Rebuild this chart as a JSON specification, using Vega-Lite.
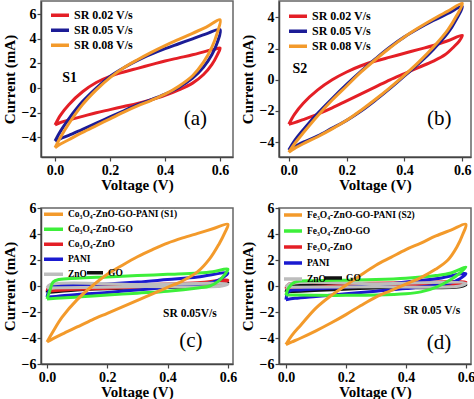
{
"$schema": "https://vega.github.io/schema/vega-lite/v6.json",
"padding": {"left": 1, "top": 0, "right": 0, "bottom": 0},
"background": "white",
"config": {
  "font": "Liberation Serif",
  "view": {"stroke": "#666", "strokeWidth": 1.5},
  "axis": {"labelFont": "Liberation Serif", "labelFontWeight": "bold", "labelFontSize": 14, "labelColor": "#000", "titleFont": "Liberation Serif", "titleFontWeight": "bold", "titleFontSize": 15, "titleColor": "#000", "grid": false, "tickSize": 4, "tickColor": "#444", "tickWidth": 1.2, "domainColor": "#444", "domainWidth": 1.5},
  "axisX": {"labelPadding": 2, "titlePadding": 0, "labelFlush": false},
  "axisY": {"labelPadding": 1, "titlePadding": 4},
  "legend": {"orient": "none", "symbolType": "stroke", "labelFont": "Liberation Serif", "labelFontWeight": "bold", "labelColor": "#000", "padding": 0, "rowPadding": 2, "labelOffset": 3, "symbolStrokeWidth": 3.5}
},
"datasets": {
 "a": [
  {"s":"0.02","i":0,"v":0,"c":-3.0},{"s":"0.02","i":1,"v":0.02,"c":-2.2},{"s":"0.02","i":2,"v":0.05,"c":-1.35},{"s":"0.02","i":3,"v":0.1,"c":-0.3},{"s":"0.02","i":4,"v":0.15,"c":0.45},{"s":"0.02","i":5,"v":0.2,"c":0.95},{"s":"0.02","i":6,"v":0.25,"c":1.3},{"s":"0.02","i":7,"v":0.3,"c":1.6},{"s":"0.02","i":8,"v":0.35,"c":1.9},{"s":"0.02","i":9,"v":0.4,"c":2.2},{"s":"0.02","i":10,"v":0.45,"c":2.45},{"s":"0.02","i":11,"v":0.5,"c":2.7},{"s":"0.02","i":12,"v":0.55,"c":3.0},{"s":"0.02","i":13,"v":0.58,"c":3.15},{"s":"0.02","i":14,"v":0.6,"c":3.25},
  {"s":"0.02","i":15,"v":0.59,"c":2.7},{"s":"0.02","i":16,"v":0.57,"c":1.9},{"s":"0.02","i":17,"v":0.54,"c":1.1},{"s":"0.02","i":18,"v":0.5,"c":0.4},{"s":"0.02","i":19,"v":0.45,"c":-0.15},{"s":"0.02","i":20,"v":0.4,"c":-0.6},{"s":"0.02","i":21,"v":0.35,"c":-0.95},{"s":"0.02","i":22,"v":0.3,"c":-1.25},{"s":"0.02","i":23,"v":0.25,"c":-1.5},{"s":"0.02","i":24,"v":0.2,"c":-1.75},{"s":"0.02","i":25,"v":0.15,"c":-2.0},{"s":"0.02","i":26,"v":0.1,"c":-2.3},{"s":"0.02","i":27,"v":0.05,"c":-2.6},{"s":"0.02","i":28,"v":0.02,"c":-2.8},{"s":"0.02","i":29,"v":0,"c":-3.0},
  {"s":"0.05","i":0,"v":0,"c":-4.3},{"s":"0.05","i":1,"v":0.02,"c":-3.5},{"s":"0.05","i":2,"v":0.05,"c":-2.5},{"s":"0.05","i":3,"v":0.1,"c":-1.1},{"s":"0.05","i":4,"v":0.15,"c":0.0},{"s":"0.05","i":5,"v":0.2,"c":0.95},{"s":"0.05","i":6,"v":0.25,"c":1.65},{"s":"0.05","i":7,"v":0.3,"c":2.25},{"s":"0.05","i":8,"v":0.35,"c":2.75},{"s":"0.05","i":9,"v":0.4,"c":3.2},{"s":"0.05","i":10,"v":0.45,"c":3.6},{"s":"0.05","i":11,"v":0.5,"c":4.0},{"s":"0.05","i":12,"v":0.55,"c":4.4},{"s":"0.05","i":13,"v":0.6,"c":4.75},
  {"s":"0.05","i":14,"v":0.59,"c":3.7},{"s":"0.05","i":15,"v":0.57,"c":2.7},{"s":"0.05","i":16,"v":0.54,"c":1.7},{"s":"0.05","i":17,"v":0.5,"c":0.8},{"s":"0.05","i":18,"v":0.45,"c":0.05},{"s":"0.05","i":19,"v":0.4,"c":-0.5},{"s":"0.05","i":20,"v":0.35,"c":-0.95},{"s":"0.05","i":21,"v":0.3,"c":-1.35},{"s":"0.05","i":22,"v":0.25,"c":-1.85},{"s":"0.05","i":23,"v":0.2,"c":-2.35},{"s":"0.05","i":24,"v":0.15,"c":-2.85},{"s":"0.05","i":25,"v":0.1,"c":-3.35},{"s":"0.05","i":26,"v":0.05,"c":-3.85},{"s":"0.05","i":27,"v":0.02,"c":-4.1},{"s":"0.05","i":28,"v":0,"c":-4.3},
  {"s":"0.08","i":0,"v":0,"c":-4.85},{"s":"0.08","i":1,"v":0.02,"c":-4.0},{"s":"0.08","i":2,"v":0.05,"c":-2.9},{"s":"0.08","i":3,"v":0.1,"c":-1.35},{"s":"0.08","i":4,"v":0.15,"c":-0.15},{"s":"0.08","i":5,"v":0.2,"c":0.85},{"s":"0.08","i":6,"v":0.25,"c":1.65},{"s":"0.08","i":7,"v":0.3,"c":2.3},{"s":"0.08","i":8,"v":0.35,"c":2.9},{"s":"0.08","i":9,"v":0.4,"c":3.45},{"s":"0.08","i":10,"v":0.45,"c":3.95},{"s":"0.08","i":11,"v":0.5,"c":4.45},{"s":"0.08","i":12,"v":0.55,"c":4.95},{"s":"0.08","i":13,"v":0.6,"c":5.55},
  {"s":"0.08","i":14,"v":0.59,"c":4.5},{"s":"0.08","i":15,"v":0.57,"c":3.3},{"s":"0.08","i":16,"v":0.54,"c":2.1},{"s":"0.08","i":17,"v":0.5,"c":1.0},{"s":"0.08","i":18,"v":0.45,"c":0.15},{"s":"0.08","i":19,"v":0.4,"c":-0.5},{"s":"0.08","i":20,"v":0.35,"c":-1.0},{"s":"0.08","i":21,"v":0.3,"c":-1.45},{"s":"0.08","i":22,"v":0.25,"c":-1.95},{"s":"0.08","i":23,"v":0.2,"c":-2.5},{"s":"0.08","i":24,"v":0.15,"c":-3.05},{"s":"0.08","i":25,"v":0.1,"c":-3.6},{"s":"0.08","i":26,"v":0.05,"c":-4.2},{"s":"0.08","i":27,"v":0.02,"c":-4.55},{"s":"0.08","i":28,"v":0,"c":-4.85}
 ],
 "b": [
  {"s":"0.02","i":0,"v":0,"c":-2.85},{"s":"0.02","i":1,"v":0.02,"c":-2.2},{"s":"0.02","i":2,"v":0.05,"c":-1.5},{"s":"0.02","i":3,"v":0.1,"c":-0.65},{"s":"0.02","i":4,"v":0.15,"c":0.0},{"s":"0.02","i":5,"v":0.2,"c":0.5},{"s":"0.02","i":6,"v":0.25,"c":0.9},{"s":"0.02","i":7,"v":0.3,"c":1.2},{"s":"0.02","i":8,"v":0.35,"c":1.45},{"s":"0.02","i":9,"v":0.4,"c":1.7},{"s":"0.02","i":10,"v":0.45,"c":1.95},{"s":"0.02","i":11,"v":0.5,"c":2.2},{"s":"0.02","i":12,"v":0.55,"c":2.5},{"s":"0.02","i":13,"v":0.6,"c":2.85},
  {"s":"0.02","i":14,"v":0.59,"c":2.5},{"s":"0.02","i":15,"v":0.57,"c":2.1},{"s":"0.02","i":16,"v":0.54,"c":1.6},{"s":"0.02","i":17,"v":0.5,"c":1.2},{"s":"0.02","i":18,"v":0.45,"c":0.8},{"s":"0.02","i":19,"v":0.4,"c":0.4},{"s":"0.02","i":20,"v":0.35,"c":0.0},{"s":"0.02","i":21,"v":0.3,"c":-0.45},{"s":"0.02","i":22,"v":0.25,"c":-0.9},{"s":"0.02","i":23,"v":0.2,"c":-1.35},{"s":"0.02","i":24,"v":0.15,"c":-1.8},{"s":"0.02","i":25,"v":0.1,"c":-2.2},{"s":"0.02","i":26,"v":0.05,"c":-2.55},{"s":"0.02","i":27,"v":0.02,"c":-2.75},{"s":"0.02","i":28,"v":0,"c":-2.85},
  {"s":"0.05","i":0,"v":0,"c":-4.5},{"s":"0.05","i":1,"v":0.02,"c":-3.9},{"s":"0.05","i":2,"v":0.05,"c":-3.2},{"s":"0.05","i":3,"v":0.1,"c":-2.15},{"s":"0.05","i":4,"v":0.15,"c":-1.2},{"s":"0.05","i":5,"v":0.2,"c":-0.3},{"s":"0.05","i":6,"v":0.25,"c":0.55},{"s":"0.05","i":7,"v":0.3,"c":1.35},{"s":"0.05","i":8,"v":0.35,"c":2.1},{"s":"0.05","i":9,"v":0.4,"c":2.75},{"s":"0.05","i":10,"v":0.45,"c":3.3},{"s":"0.05","i":11,"v":0.5,"c":3.8},{"s":"0.05","i":12,"v":0.55,"c":4.25},{"s":"0.05","i":13,"v":0.6,"c":4.7},
  {"s":"0.05","i":14,"v":0.58,"c":3.9},{"s":"0.05","i":15,"v":0.55,"c":3.0},{"s":"0.05","i":16,"v":0.5,"c":1.95},{"s":"0.05","i":17,"v":0.45,"c":1.05},{"s":"0.05","i":18,"v":0.4,"c":0.25},{"s":"0.05","i":19,"v":0.35,"c":-0.55},{"s":"0.05","i":20,"v":0.3,"c":-1.3},{"s":"0.05","i":21,"v":0.25,"c":-2.0},{"s":"0.05","i":22,"v":0.2,"c":-2.6},{"s":"0.05","i":23,"v":0.15,"c":-3.1},{"s":"0.05","i":24,"v":0.1,"c":-3.6},{"s":"0.05","i":25,"v":0.05,"c":-4.0},{"s":"0.05","i":26,"v":0.02,"c":-4.3},{"s":"0.05","i":27,"v":0,"c":-4.5},
  {"s":"0.08","i":0,"v":0,"c":-4.65},{"s":"0.08","i":1,"v":0.02,"c":-4.1},{"s":"0.08","i":2,"v":0.05,"c":-3.4},{"s":"0.08","i":3,"v":0.1,"c":-2.3},{"s":"0.08","i":4,"v":0.15,"c":-1.3},{"s":"0.08","i":5,"v":0.2,"c":-0.4},{"s":"0.08","i":6,"v":0.25,"c":0.5},{"s":"0.08","i":7,"v":0.3,"c":1.3},{"s":"0.08","i":8,"v":0.35,"c":2.05},{"s":"0.08","i":9,"v":0.4,"c":2.75},{"s":"0.08","i":10,"v":0.45,"c":3.35},{"s":"0.08","i":11,"v":0.5,"c":3.9},{"s":"0.08","i":12,"v":0.55,"c":4.4},{"s":"0.08","i":13,"v":0.6,"c":4.9},
  {"s":"0.08","i":14,"v":0.58,"c":4.1},{"s":"0.08","i":15,"v":0.55,"c":3.2},{"s":"0.08","i":16,"v":0.5,"c":2.1},{"s":"0.08","i":17,"v":0.45,"c":1.15},{"s":"0.08","i":18,"v":0.4,"c":0.3},{"s":"0.08","i":19,"v":0.35,"c":-0.5},{"s":"0.08","i":20,"v":0.3,"c":-1.25},{"s":"0.08","i":21,"v":0.25,"c":-1.95},{"s":"0.08","i":22,"v":0.2,"c":-2.6},{"s":"0.08","i":23,"v":0.15,"c":-3.15},{"s":"0.08","i":24,"v":0.1,"c":-3.65},{"s":"0.08","i":25,"v":0.05,"c":-4.1},{"s":"0.08","i":26,"v":0.02,"c":-4.4},{"s":"0.08","i":27,"v":0,"c":-4.65}
 ],
 "cgo": [
  {"s":"GO","i":0,"v":0,"c":-0.5},{"s":"GO","i":1,"v":0.01,"c":-0.1},{"s":"GO","i":2,"v":0.1,"c":-0.05},{"s":"GO","i":3,"v":0.3,"c":0.0},{"s":"GO","i":4,"v":0.5,"c":0.1},{"s":"GO","i":5,"v":0.6,"c":0.25},{"s":"GO","i":6,"v":0.58,"c":0.05},{"s":"GO","i":7,"v":0.5,"c":-0.05},{"s":"GO","i":8,"v":0.3,"c":-0.15},{"s":"GO","i":9,"v":0.1,"c":-0.3},{"s":"GO","i":10,"v":0,"c":-0.5}
 ],
 "c": [
  {"s":"Z","i":0,"v":0,"c":-0.4},{"s":"Z","i":1,"v":0.01,"c":0.0},{"s":"Z","i":2,"v":0.1,"c":0.05},{"s":"Z","i":3,"v":0.3,"c":0.1},{"s":"Z","i":4,"v":0.5,"c":0.25},{"s":"Z","i":5,"v":0.6,"c":0.45},{"s":"Z","i":6,"v":0.58,"c":0.2},{"s":"Z","i":7,"v":0.5,"c":0.05},{"s":"Z","i":8,"v":0.3,"c":-0.1},{"s":"Z","i":9,"v":0.1,"c":-0.25},{"s":"Z","i":10,"v":0,"c":-0.4},
  {"s":"P","i":0,"v":0,"c":-0.85},{"s":"P","i":1,"v":0.01,"c":-0.2},{"s":"P","i":2,"v":0.03,"c":0.0},{"s":"P","i":3,"v":0.1,"c":0.05},{"s":"P","i":4,"v":0.2,"c":0.15},{"s":"P","i":5,"v":0.3,"c":0.3},{"s":"P","i":6,"v":0.4,"c":0.5},{"s":"P","i":7,"v":0.5,"c":0.7},{"s":"P","i":8,"v":0.6,"c":1.0},{"s":"P","i":9,"v":0.58,"c":0.6},{"s":"P","i":10,"v":0.55,"c":0.3},{"s":"P","i":11,"v":0.5,"c":0.1},{"s":"P","i":12,"v":0.4,"c":-0.1},{"s":"P","i":13,"v":0.3,"c":-0.3},{"s":"P","i":14,"v":0.2,"c":-0.5},{"s":"P","i":15,"v":0.1,"c":-0.65},{"s":"P","i":16,"v":0.03,"c":-0.8},{"s":"P","i":17,"v":0,"c":-0.85},
  {"s":"Zn","i":0,"v":0,"c":-0.15},{"s":"Zn","i":1,"v":0.01,"c":0.1},{"s":"Zn","i":2,"v":0.3,"c":0.12},{"s":"Zn","i":3,"v":0.6,"c":0.15},{"s":"Zn","i":4,"v":0.58,"c":0.0},{"s":"Zn","i":5,"v":0.3,"c":-0.05},{"s":"Zn","i":6,"v":0,"c":-0.15},
  {"s":"G","i":0,"v":0,"c":-1.0},{"s":"G","i":1,"v":0.01,"c":-0.3},{"s":"G","i":2,"v":0.02,"c":0.3},{"s":"G","i":3,"v":0.04,"c":0.5},{"s":"G","i":4,"v":0.1,"c":0.6},{"s":"G","i":5,"v":0.2,"c":0.7},{"s":"G","i":6,"v":0.3,"c":0.8},{"s":"G","i":7,"v":0.4,"c":0.9},{"s":"G","i":8,"v":0.5,"c":1.0},{"s":"G","i":9,"v":0.55,"c":1.1},{"s":"G","i":10,"v":0.6,"c":1.3},{"s":"G","i":11,"v":0.59,"c":0.9},{"s":"G","i":12,"v":0.57,"c":0.4},{"s":"G","i":13,"v":0.54,"c":0.0},{"s":"G","i":14,"v":0.5,"c":-0.15},{"s":"G","i":15,"v":0.4,"c":-0.4},{"s":"G","i":16,"v":0.3,"c":-0.55},{"s":"G","i":17,"v":0.2,"c":-0.7},{"s":"G","i":18,"v":0.1,"c":-0.85},{"s":"G","i":19,"v":0.03,"c":-0.95},{"s":"G","i":20,"v":0,"c":-1.0},
  {"s":"PS","i":0,"v":0,"c":-4.3},{"s":"PS","i":1,"v":0.02,"c":-3.5},{"s":"PS","i":2,"v":0.05,"c":-2.4},{"s":"PS","i":3,"v":0.1,"c":-1.05},{"s":"PS","i":4,"v":0.15,"c":0.0},{"s":"PS","i":5,"v":0.2,"c":0.9},{"s":"PS","i":6,"v":0.25,"c":1.6},{"s":"PS","i":7,"v":0.3,"c":2.25},{"s":"PS","i":8,"v":0.35,"c":2.8},{"s":"PS","i":9,"v":0.4,"c":3.3},{"s":"PS","i":10,"v":0.45,"c":3.7},{"s":"PS","i":11,"v":0.5,"c":4.05},{"s":"PS","i":12,"v":0.55,"c":4.4},{"s":"PS","i":13,"v":0.6,"c":4.75},
  {"s":"PS","i":14,"v":0.59,"c":4.1},{"s":"PS","i":15,"v":0.57,"c":3.2},{"s":"PS","i":16,"v":0.54,"c":2.1},{"s":"PS","i":17,"v":0.5,"c":1.1},{"s":"PS","i":18,"v":0.45,"c":0.4},{"s":"PS","i":19,"v":0.4,"c":-0.1},{"s":"PS","i":20,"v":0.35,"c":-0.6},{"s":"PS","i":21,"v":0.3,"c":-1.1},{"s":"PS","i":22,"v":0.25,"c":-1.6},{"s":"PS","i":23,"v":0.2,"c":-2.1},{"s":"PS","i":24,"v":0.15,"c":-2.6},{"s":"PS","i":25,"v":0.1,"c":-3.15},{"s":"PS","i":26,"v":0.05,"c":-3.7},{"s":"PS","i":27,"v":0.02,"c":-4.05},{"s":"PS","i":28,"v":0,"c":-4.3}
 ],
 "dgo": [
  {"s":"GO","i":0,"v":0,"c":-0.45},{"s":"GO","i":1,"v":0.01,"c":-0.1},{"s":"GO","i":2,"v":0.3,"c":0.0},{"s":"GO","i":3,"v":0.6,"c":0.1},{"s":"GO","i":4,"v":0.58,"c":-0.05},{"s":"GO","i":5,"v":0.3,"c":-0.15},{"s":"GO","i":6,"v":0,"c":-0.45}
 ],
 "d": [
  {"s":"Z","i":0,"v":0,"c":-0.2},{"s":"Z","i":1,"v":0.01,"c":0.15},{"s":"Z","i":2,"v":0.2,"c":0.2},{"s":"Z","i":3,"v":0.4,"c":0.25},{"s":"Z","i":4,"v":0.6,"c":0.3},{"s":"Z","i":5,"v":0.58,"c":0.15},{"s":"Z","i":6,"v":0.4,"c":0.05},{"s":"Z","i":7,"v":0.2,"c":0.0},{"s":"Z","i":8,"v":0,"c":-0.2},
  {"s":"P","i":0,"v":0,"c":-1.05},{"s":"P","i":1,"v":0.01,"c":-0.4},{"s":"P","i":2,"v":0.05,"c":-0.3},{"s":"P","i":3,"v":0.2,"c":-0.1},{"s":"P","i":4,"v":0.3,"c":0.05},{"s":"P","i":5,"v":0.4,"c":0.3},{"s":"P","i":6,"v":0.5,"c":0.55},{"s":"P","i":7,"v":0.6,"c":0.95},{"s":"P","i":8,"v":0.58,"c":0.55},{"s":"P","i":9,"v":0.55,"c":0.25},{"s":"P","i":10,"v":0.5,"c":0.05},{"s":"P","i":11,"v":0.4,"c":-0.2},{"s":"P","i":12,"v":0.3,"c":-0.4},{"s":"P","i":13,"v":0.2,"c":-0.6},{"s":"P","i":14,"v":0.1,"c":-0.8},{"s":"P","i":15,"v":0.03,"c":-0.95},{"s":"P","i":16,"v":0,"c":-1.05},
  {"s":"Zn","i":0,"v":0,"c":-0.1},{"s":"Zn","i":1,"v":0.01,"c":0.15},{"s":"Zn","i":2,"v":0.3,"c":0.18},{"s":"Zn","i":3,"v":0.6,"c":0.2},{"s":"Zn","i":4,"v":0.58,"c":0.0},{"s":"Zn","i":5,"v":0.3,"c":-0.05},{"s":"Zn","i":6,"v":0,"c":-0.1},
  {"s":"G","i":0,"v":0,"c":-0.7},{"s":"G","i":1,"v":0.01,"c":-0.1},{"s":"G","i":2,"v":0.03,"c":0.3},{"s":"G","i":3,"v":0.1,"c":0.4},{"s":"G","i":4,"v":0.2,"c":0.45},{"s":"G","i":5,"v":0.3,"c":0.5},{"s":"G","i":6,"v":0.4,"c":0.6},{"s":"G","i":7,"v":0.5,"c":0.8},{"s":"G","i":8,"v":0.55,"c":1.0},{"s":"G","i":9,"v":0.6,"c":1.45},{"s":"G","i":10,"v":0.58,"c":1.0},{"s":"G","i":11,"v":0.55,"c":0.5},{"s":"G","i":12,"v":0.5,"c":-0.1},{"s":"G","i":13,"v":0.45,"c":-0.45},{"s":"G","i":14,"v":0.4,"c":-0.6},{"s":"G","i":15,"v":0.3,"c":-0.7},{"s":"G","i":16,"v":0.2,"c":-0.72},{"s":"G","i":17,"v":0.1,"c":-0.72},{"s":"G","i":18,"v":0.03,"c":-0.7},{"s":"G","i":19,"v":0,"c":-0.7},
  {"s":"PS","i":0,"v":0,"c":-4.5},{"s":"PS","i":1,"v":0.02,"c":-3.8},{"s":"PS","i":2,"v":0.05,"c":-3.0},{"s":"PS","i":3,"v":0.1,"c":-1.7},{"s":"PS","i":4,"v":0.15,"c":-0.75},{"s":"PS","i":5,"v":0.2,"c":0.05},{"s":"PS","i":6,"v":0.25,"c":0.85},{"s":"PS","i":7,"v":0.3,"c":1.6},{"s":"PS","i":8,"v":0.35,"c":2.2},{"s":"PS","i":9,"v":0.4,"c":2.8},{"s":"PS","i":10,"v":0.45,"c":3.3},{"s":"PS","i":11,"v":0.5,"c":3.85},{"s":"PS","i":12,"v":0.55,"c":4.3},{"s":"PS","i":13,"v":0.6,"c":4.75},
  {"s":"PS","i":14,"v":0.59,"c":4.0},{"s":"PS","i":15,"v":0.57,"c":3.0},{"s":"PS","i":16,"v":0.54,"c":2.0},{"s":"PS","i":17,"v":0.5,"c":1.3},{"s":"PS","i":18,"v":0.45,"c":0.65},{"s":"PS","i":19,"v":0.4,"c":0.15},{"s":"PS","i":20,"v":0.35,"c":-0.35},{"s":"PS","i":21,"v":0.3,"c":-0.85},{"s":"PS","i":22,"v":0.25,"c":-1.5},{"s":"PS","i":23,"v":0.2,"c":-2.2},{"s":"PS","i":24,"v":0.15,"c":-2.85},{"s":"PS","i":25,"v":0.1,"c":-3.45},{"s":"PS","i":26,"v":0.05,"c":-4.0},{"s":"PS","i":27,"v":0.02,"c":-4.3},{"s":"PS","i":28,"v":0,"c":-4.5}
 ]
},
"bounds": "flush",
"columns": 2,
"spacing": {"row": 51, "column": 46},
"resolve": {"scale": {"color": "independent"}, "legend": {"color": "independent"}},
"concat": [
 {
  "width": 192, "height": 156,
  "encoding": {
   "x": {"field": "v", "type": "quantitative", "scale": {"domain": [-0.051, 0.647], "nice": false, "zero": false}, "axis": {"values": [0, 0.2, 0.4, 0.6], "format": ".1f", "title": "Voltage (V)", "labelFont": "Liberation Serif", "titleFont": "Liberation Serif"}},
   "y": {"field": "c", "type": "quantitative", "scale": {"domain": [-5.6, 7.07], "nice": false, "zero": false}, "axis": {"values": [-4, -2, 0, 2, 4, 6], "title": "Current (mA)", "labelFont": "Liberation Serif", "titleFont": "Liberation Serif"}}
  },
  "layer": [
   {"data": {"name": "a"}, "mark": {"type": "line", "strokeWidth": 3, "interpolate": "catmull-rom", "clip": true},
    "encoding": {"color": {"field": "s", "type": "nominal", "scale": {"domain": ["0.02", "0.05", "0.08"], "range": ["#e41f26", "#1c1c96", "#f39a2b"]}, "legend": {"title": null, "legendX": 8, "legendY": 8, "symbolSize": 324, "clipHeight": 12.5, "labelFontSize": 12, "labelExpr": "'SR ' + datum.label + ' V/s'"}}, "order": {"field": "i", "type": "quantitative"}}},
   {"data": {"values": [{"v": 0.053, "c": 0.84, "t": "S1"}]}, "mark": {"type": "text", "font": "Liberation Serif", "fontWeight": "bold", "fontSize": 14, "color": "#000"}, "encoding": {"text": {"field": "t"}}},
   {"data": {"values": [{"v": 0.51, "c": -2.55, "t": "(a)"}]}, "mark": {"type": "text", "font": "Liberation Serif", "fontSize": 21, "color": "#000"}, "encoding": {"text": {"field": "t"}}}
  ]
 },
 {
  "width": 192, "height": 156,
  "encoding": {
   "x": {"field": "v", "type": "quantitative", "scale": {"domain": [-0.034, 0.63], "nice": false, "zero": false}, "axis": {"values": [0, 0.2, 0.4, 0.6], "format": ".1f", "title": "Voltage (V)", "labelFont": "Liberation Serif", "titleFont": "Liberation Serif"}},
   "y": {"field": "c", "type": "quantitative", "scale": {"domain": [-4.95, 5.05], "nice": false, "zero": false}, "axis": {"values": [-4, -2, 0, 2, 4], "title": "Current (mA)", "labelFont": "Liberation Serif", "titleFont": "Liberation Serif"}}
  },
  "layer": [
   {"data": {"name": "b"}, "mark": {"type": "line", "strokeWidth": 3, "interpolate": "catmull-rom", "clip": true},
    "encoding": {"color": {"field": "s", "type": "nominal", "scale": {"domain": ["0.02", "0.05", "0.08"], "range": ["#e41f26", "#1c1c96", "#f39a2b"]}, "legend": {"title": null, "legendX": 8, "legendY": 9, "symbolSize": 324, "clipHeight": 12.5, "labelFontSize": 12, "labelExpr": "'SR ' + datum.label + ' V/s'"}}, "order": {"field": "i", "type": "quantitative"}}},
   {"data": {"values": [{"v": 0.038, "c": 0.7, "t": "S2"}]}, "mark": {"type": "text", "font": "Liberation Serif", "fontWeight": "bold", "fontSize": 14, "color": "#000"}, "encoding": {"text": {"field": "t"}}},
   {"data": {"values": [{"v": 0.52, "c": -2.5, "t": "(b)"}]}, "mark": {"type": "text", "font": "Liberation Serif", "fontSize": 21, "color": "#000"}, "encoding": {"text": {"field": "t"}}}
  ]
 },
 {
  "width": 192, "height": 156,
  "encoding": {
   "x": {"field": "v", "type": "quantitative", "scale": {"domain": [-0.02, 0.617], "nice": false, "zero": false}, "axis": {"values": [0, 0.2, 0.4, 0.6], "format": ".1f", "title": "Voltage (V)", "labelFont": "Liberation Serif", "titleFont": "Liberation Serif"}},
   "y": {"field": "c", "type": "quantitative", "scale": {"domain": [-6, 6], "nice": false, "zero": false}, "axis": {"values": [-6, -4, -2, 0, 2, 4, 6], "title": "Current (mA)", "labelFont": "Liberation Serif", "titleFont": "Liberation Serif"}}
  },
  "resolve": {"scale": {"color": "independent"}, "legend": {"color": "independent"}},
  "layer": [
   {"data": {"name": "cgo"}, "mark": {"type": "line", "strokeWidth": 3, "interpolate": "catmull-rom", "clip": true},
    "encoding": {"color": {"field": "s", "type": "nominal", "scale": {"domain": ["GO"], "range": ["#111111"]}, "legend": {"title": null, "legendX": 44, "legendY": 58.4, "symbolSize": 256, "clipHeight": 12.6, "labelFontSize": 9.5, "labelOffset": 3}}, "order": {"field": "i", "type": "quantitative"}}},
   {"data": {"name": "c"}, "mark": {"type": "line", "strokeWidth": 3, "interpolate": "catmull-rom", "clip": true},
    "encoding": {"color": {"field": "s", "type": "nominal", "scale": {"domain": ["PS", "G", "Z", "P", "Zn"], "range": ["#f39a2b", "#3def3a", "#e41f26", "#1a1ad0", "#bdbdbd"]}, "legend": {"title": null, "legendX": 1, "legendY": 0, "symbolSize": 361, "clipHeight": 12.6, "labelFontSize": 9.5, "labelExpr": "datum.label == 'PS' ? 'Co₃O₄-ZnO-GO-PANI (S1)' : datum.label == 'G' ? 'Co₃O₄-ZnO-GO' : datum.label == 'Z' ? 'Co₃O₄-ZnO' : datum.label == 'P' ? 'PANI' : 'ZnO'"}}, "order": {"field": "i", "type": "quantitative"}}},
   {"data": {"values": [{"v": 0.474, "c": -2.15, "t": "SR 0.05V/s"}]}, "mark": {"type": "text", "font": "Liberation Serif", "fontWeight": "bold", "fontSize": 11.5, "color": "#000"}, "encoding": {"text": {"field": "t"}}},
   {"data": {"values": [{"v": 0.477, "c": -4.25, "t": "(c)"}]}, "mark": {"type": "text", "font": "Liberation Serif", "fontSize": 21, "color": "#000"}, "encoding": {"text": {"field": "t"}}}
  ]
 },
 {
  "width": 192, "height": 156,
  "encoding": {
   "x": {"field": "v", "type": "quantitative", "scale": {"domain": [-0.023, 0.617], "nice": false, "zero": false}, "axis": {"values": [0, 0.2, 0.4, 0.6], "format": ".1f", "title": "Voltage (V)", "labelFont": "Liberation Serif", "titleFont": "Liberation Serif"}},
   "y": {"field": "c", "type": "quantitative", "scale": {"domain": [-6, 6], "nice": false, "zero": false}, "axis": {"values": [-6, -4, -2, 0, 2, 4, 6], "title": "Current (mA)", "labelFont": "Liberation Serif", "titleFont": "Liberation Serif"}}
  },
  "resolve": {"scale": {"color": "independent"}, "legend": {"color": "independent"}},
  "layer": [
   {"data": {"name": "dgo"}, "mark": {"type": "line", "strokeWidth": 3, "interpolate": "catmull-rom", "clip": true},
    "encoding": {"color": {"field": "s", "type": "nominal", "scale": {"domain": ["GO"], "range": ["#111111"]}, "legend": {"title": null, "legendX": 44, "legendY": 63, "symbolSize": 289, "clipHeight": 13.75, "labelFontSize": 9.5, "labelOffset": 2}}, "order": {"field": "i", "type": "quantitative"}}},
   {"data": {"name": "d"}, "mark": {"type": "line", "strokeWidth": 3, "interpolate": "catmull-rom", "clip": true},
    "encoding": {"color": {"field": "s", "type": "nominal", "scale": {"domain": ["PS", "G", "Z", "P", "Zn"], "range": ["#f39a2b", "#3def3a", "#e41f26", "#1a1ad0", "#bdbdbd"]}, "legend": {"title": null, "legendX": 3, "legendY": 0, "symbolSize": 324, "clipHeight": 13.75, "labelFontSize": 9.5, "labelExpr": "datum.label == 'PS' ? 'Fe₃O₄-ZnO-GO-PANI (S2)' : datum.label == 'G' ? 'Fe₃O₄-ZnO-GO' : datum.label == 'Z' ? 'Fe₃O₄-ZnO' : datum.label == 'P' ? 'PANI' : 'ZnO'"}}, "order": {"field": "i", "type": "quantitative"}}},
   {"data": {"values": [{"v": 0.487, "c": -1.9, "t": "SR 0.05 V/s"}]}, "mark": {"type": "text", "font": "Liberation Serif", "fontWeight": "bold", "fontSize": 11.5, "color": "#000"}, "encoding": {"text": {"field": "t"}}},
   {"data": {"values": [{"v": 0.51, "c": -4.4, "t": "(d)"}]}, "mark": {"type": "text", "font": "Liberation Serif", "fontSize": 21, "color": "#000"}, "encoding": {"text": {"field": "t"}}}
  ]
 }
]
}
